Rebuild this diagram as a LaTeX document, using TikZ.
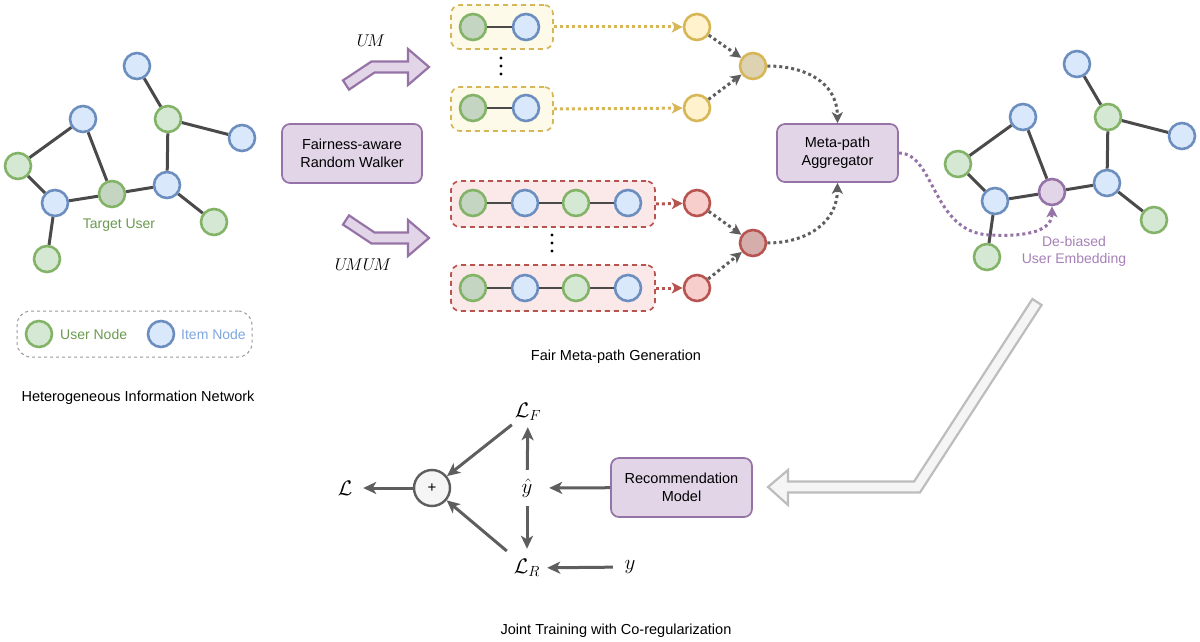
\RequirePackage{fix-cm}
\documentclass[tikz,border=0pt]{standalone}
\usepackage{fontspec}
\setmainfont{Liberation Sans}
\usetikzlibrary{arrows.meta}
\definecolor{gS}{HTML}{82B366}
\definecolor{gF}{HTML}{D5E8D4}
\definecolor{gT}{HTML}{C4D6C1}
\definecolor{bS}{HTML}{6C8EBF}
\definecolor{bF}{HTML}{DAE8FC}
\definecolor{yS}{HTML}{D6B656}
\definecolor{yF}{HTML}{FFF2CC}
\definecolor{yBF}{HTML}{FEFAE9}
\definecolor{yA}{HTML}{DDD3B2}
\definecolor{rS}{HTML}{B85450}
\definecolor{rF}{HTML}{F8CECC}
\definecolor{rBF}{HTML}{FAE9E8}
\definecolor{rA}{HTML}{D5ADAB}
\definecolor{pS}{HTML}{9673A6}
\definecolor{pF}{HTML}{E1D5E7}
\definecolor{pT}{HTML}{A680B8}
\definecolor{gTxt}{HTML}{6A9A4F}
\definecolor{bTxt}{HTML}{7EA6E0}
\definecolor{edgec}{HTML}{4A4A4A}
\definecolor{arrowc}{HTML}{5E5E5E}
\definecolor{hollowS}{HTML}{BDBDBD}
\definecolor{hollowF}{HTML}{F5F5F5}
\begin{document}
\begin{tikzpicture}[x=1pt,y=-1pt,
  every node/.style={font=\fontsize{14}{17}\selectfont},
  usernode/.style={circle, draw=gS, fill=gF, line width=2.6pt, minimum size=26pt, inner sep=0pt},
  targetnode/.style={usernode, fill=gT},
  itemnode/.style={circle, draw=bS, fill=bF, line width=2.6pt, minimum size=26pt, inner sep=0pt},
  ysmall/.style={circle, draw=yS, fill=yF, line width=2.6pt, minimum size=26pt, inner sep=0pt},
  rsmall/.style={circle, draw=rS, fill=rF, line width=2.6pt, minimum size=26pt, inner sep=0pt},
  yagg/.style={ysmall, fill=yA},
  ragg/.style={rsmall, fill=rA},
  debiased/.style={circle, draw=pS, fill=pF, line width=2.6pt, minimum size=26pt, inner sep=0pt},
  gedge/.style={draw=edgec, line width=3pt},
  pedge/.style={draw=edgec, line width=2.5pt},
  ybox/.style={draw=yS, fill=yBF, line width=1.7pt, dash pattern=on 5pt off 4pt, rounded corners=9pt, minimum width=102pt, minimum height=44pt},
  rbox/.style={draw=rS, fill=rBF, line width=1.7pt, dash pattern=on 5pt off 4pt, rounded corners=9pt, minimum width=204pt, minimum height=46pt},
  procbox/.style={draw=pS, fill=pF, line width=1.7pt, rounded corners=8pt, align=center, font=\fontsize{14.5}{18.5}\selectfont},
  ydot/.style={draw=yS, line width=3pt, dash pattern=on 3pt off 3pt, -{Stealth[length=11pt,width=11pt,inset=3pt]}},
  rdot/.style={draw=rS, line width=3pt, dash pattern=on 3pt off 3pt, -{Stealth[length=11pt,width=11pt,inset=3pt]}},
  gdot/.style={draw=arrowc, line width=3pt, dash pattern=on 3pt off 3pt, -{Stealth[length=11pt,width=11pt,inset=3pt]}},
  pdot/.style={draw=pS, line width=3pt, dash pattern=on 3pt off 3pt, -{Stealth[length=11pt,width=11pt,inset=3pt]}},
  garrow/.style={draw=arrowc, line width=3pt, -{Stealth[length=13pt,width=12pt,inset=3.5pt]}},
  fatarrow/.style={draw=pS, fill=pF, line width=2.2pt, line join=miter},
  mathlbl/.style={font=\fontsize{17}{20}\selectfont, inner sep=0pt},
  bigmath/.style={font=\fontsize{21}{24}\selectfont, inner sep=0pt},
  caption/.style={font=\fontsize{14.5}{17}\selectfont}
]
\useasboundingbox (0,0) rectangle (1200,642);

% ---------- left graph ----------
\node[itemnode] (a1) at (137,66) {};
\node[usernode] (a2) at (168,119) {};
\node[itemnode] (a3) at (242,138) {};
\node[itemnode] (a4) at (83,119) {};
\node[usernode] (a5) at (18,166) {};
\node[itemnode] (a6) at (55,203) {};
\node[targetnode] (a7) at (112,194) {};
\node[itemnode] (a8) at (167,185) {};
\node[usernode] (a9) at (214,222) {};
\node[usernode] (a10) at (47,259) {};
\foreach \p/\q in {a1/a2,a2/a3,a2/a8,a4/a5,a4/a7,a5/a6,a6/a7,a6/a10,a7/a8,a8/a9}
  \draw[gedge] (\p) -- (\q);
\node[text=gTxt, font=\fontsize{14}{16}\selectfont] (tu) at (119,225) {Target User};

% legend
\node[draw=gray!80, line width=1pt, dash pattern=on 3pt off 3pt, rounded corners=14pt,
      minimum width=235pt, minimum height=46pt] (leg) at (134.5,334) {};
\node[usernode] (lu) at (39,334) {};
\node[text=gTxt, anchor=west, inner sep=0pt] (lut) at (60,334) {User Node};
\node[itemnode] (li) at (161,334) {};
\node[text=bTxt, anchor=west, inner sep=0pt] (lit) at (181,334) {Item Node};
\node[caption] (hin) at (138,398) {Heterogeneous Information Network};

% ---------- walker ----------
\node[procbox, minimum width=140pt, minimum height=59pt] (walk) at (352,153.5) {Fairness-aware\\Random Walker};
\draw[fatarrow] (343,80.4) -- (371.4,61.5) -- (408,61.5) -- (408,49) -- (429,67) -- (408,85) -- (408,72.5) -- (374.6,72.5) -- (349,89.6) -- cycle;
\draw[fatarrow] (343,224.6) -- (371.4,243.5) -- (408,243.5) -- (408,256) -- (429,238) -- (408,220) -- (408,232.5) -- (374.6,232.5) -- (349,215.4) -- cycle;
\node[mathlbl] (um) at (371,41) {$U\!M$};
\node[mathlbl] (umum) at (363,265) {$U\!MU\!M$};

% ---------- UM paths ----------
\node[ybox] (yb1) at (502,27) {};
\node[ybox] (yb2) at (502,109) {};
\node[targetnode] (y1u) at (473,27) {};
\node[itemnode] (y1i) at (526,27) {};
\node[targetnode] (y2u) at (473,108) {};
\node[itemnode] (y2i) at (526,108) {};
\draw[pedge] (y1u) -- (y1i);
\draw[pedge] (y2u) -- (y2i);
\foreach \yy in {58,66,74} \fill (501,\yy) circle (1.7pt);

\node[ysmall] (ys1) at (697,27) {};
\node[ysmall] (ys2) at (697,108) {};
\node[yagg] (ya) at (753,66) {};
\draw[ydot] (yb1.east) -- (ys1);
\draw[ydot] (yb2.east) -- (ys2);
\draw[gdot] (ys1) -- (ya);
\draw[gdot] (ys2) -- (ya);

% ---------- UMUM paths ----------
\node[rbox] (rb1) at (553,204) {};
\node[rbox] (rb2) at (553,288) {};
\node[targetnode] (r1a) at (473,203) {};
\node[itemnode] (r1b) at (525,203) {};
\node[usernode] (r1c) at (576,203) {};
\node[itemnode] (r1d) at (628,203) {};
\node[targetnode] (r2a) at (473,288) {};
\node[itemnode] (r2b) at (525,288) {};
\node[usernode] (r2c) at (576,288) {};
\node[itemnode] (r2d) at (628,288) {};
\draw[pedge] (r1a) -- (r1b) (r1b) -- (r1c) (r1c) -- (r1d);
\draw[pedge] (r2a) -- (r2b) (r2b) -- (r2c) (r2c) -- (r2d);
\foreach \yy in {235,243,251} \fill (552,\yy) circle (1.7pt);

\node[rsmall] (rs1) at (697,203) {};
\node[rsmall] (rs2) at (697,288) {};
\node[ragg] (ra) at (753,243) {};
\draw[rdot] (rb1.east) -- (rs1);
\draw[rdot] (rb2.east) -- (rs2);
\draw[gdot] (rs1) -- (ra);
\draw[gdot] (rs2) -- (ra);

\node[caption] (fmg) at (616,357) {Fair Meta-path Generation};

% ---------- aggregator ----------
\node[procbox, minimum width=121pt, minimum height=58pt] (agg) at (837.5,153) {Meta-path\\Aggregator};
\draw[gdot] (ya.east) .. controls (805,66) and (837,82) .. (agg.north);
\draw[gdot] (ra.east) .. controls (805,243) and (837,224) .. (agg.south);

% ---------- right graph ----------
\begin{scope}[shift={(940,-2)}]
\node[itemnode] (b1) at (137,66) {};
\node[usernode] (b2) at (168,119) {};
\node[itemnode] (b3) at (242,138) {};
\node[itemnode] (b4) at (83,119) {};
\node[usernode] (b5) at (18,166) {};
\node[itemnode] (b6) at (55,203) {};
\node[debiased] (b7) at (112,194) {};
\node[itemnode] (b8) at (167,185) {};
\node[usernode] (b9) at (214,222) {};
\node[usernode] (b10) at (47,259) {};
\end{scope}
\foreach \p/\q in {b1/b2,b2/b3,b2/b8,b4/b5,b4/b7,b5/b6,b6/b7,b6/b10,b7/b8,b8/b9}
  \draw[gedge] (\p) -- (\q);
\draw[pdot] (agg.east) .. controls (935,153) and (932,233) .. (990,235) .. controls (1030,237) and (1052,230) .. (b7.south);
\node[text=pT, align=center, font=\fontsize{14}{17}\selectfont] (deb) at (1074,251) {De-biased\\User Embedding};

% ---------- hollow arrow ----------
\draw[draw=hollowS, fill=hollowF, line width=2.2pt, line join=miter]
  (1032.4,299) -- (914.1,481.5) -- (788,481.5) -- (788,470) -- (768,487) -- (788,505) -- (788,492.5) -- (920,492.5) -- (1041.6,305) -- cycle;

% ---------- joint training ----------
\node[procbox, minimum width=141pt, minimum height=59pt] (rec) at (681.5,487.5) {Recommendation\\Model};
\node[bigmath, minimum width=44pt, minimum height=36pt] (yhat) at (527,488) {$\hat{y}$};
\node[bigmath, minimum width=32pt, minimum height=30pt] (LF) at (528,412) {$\mathcal{L}_F$};
\node[bigmath, minimum width=40pt, minimum height=38pt] (LR) at (527,568) {$\mathcal{L}_R$};
\node[bigmath, minimum width=34pt, minimum height=30pt] (yy) at (630,567) {$y$};
\node[bigmath, minimum width=36pt, minimum height=30pt] (L) at (345,488) {$\mathcal{L}$};
\node[circle, draw=arrowc, fill=hollowF, line width=2.4pt, minimum size=36pt, inner sep=0pt, font=\fontsize{15}{17}\selectfont] (plus) at (432,488) {+};
\draw[garrow] (rec) -- (yhat);
\draw[garrow] (yhat) -- (LF);
\draw[garrow] (yhat) -- (LR);
\draw[garrow] (yy) -- (LR);
\draw[garrow] (LF) -- (plus);
\draw[garrow] (LR) -- (plus);
\draw[garrow] (plus) -- (L);
\node[caption] (jt) at (616,631) {Joint Training with Co-regularization};
\end{tikzpicture}
\end{document}
